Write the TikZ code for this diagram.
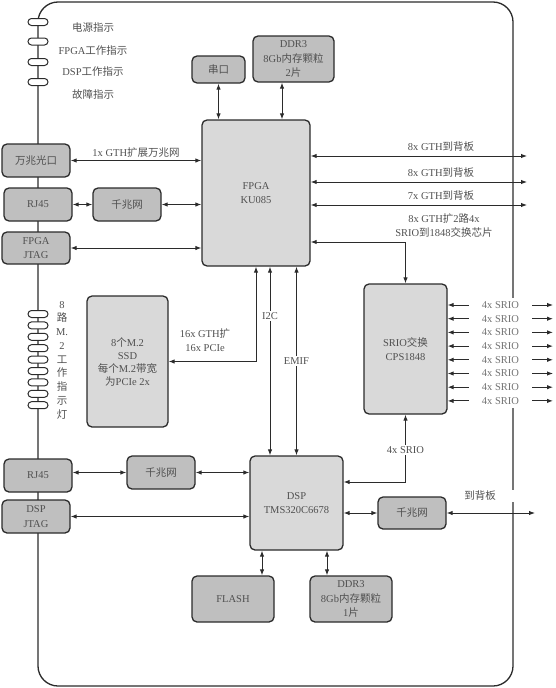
\documentclass[tikz,border=0pt]{standalone}
\usepackage{fontspec}
\setmainfont{Liberation Serif}
\newfontfamily\cjk{Noto Sans CJK SC}
\usepackage{xcolor}
\usetikzlibrary{arrows.meta,positioning,calc}
\definecolor{boxgray}{HTML}{BFBFBF}
\definecolor{chipgray}{HTML}{D9D9D9}
\definecolor{txtgray}{HTML}{505050}
\definecolor{edgegray}{HTML}{2B2B2B}

\begin{document}
\begin{tikzpicture}[x=1pt, y=-1pt,
    box/.style={rectangle, draw=edgegray, line width=1.3pt, rounded corners=5pt, fill=boxgray, text=txtgray, align=center, inner sep=0pt, font=\fontsize{10.5}{14.5}\selectfont},
    chip/.style={box, fill=chipgray},
    wh/.style 2 args={minimum width=#1pt, minimum height=#2pt},
    lbl/.style={text=txtgray, align=center, inner sep=1.5pt, font=\fontsize{10.5}{14.5}\selectfont},
    led/.style={rectangle, draw=edgegray, line width=1pt, fill=white, rounded corners=3.5pt, minimum width=20pt, minimum height=7pt, inner sep=0pt},
    arrow/.style={-{Latex[length=6pt,width=4.5pt]}, line width=1pt, edgegray},
    biarrow/.style={{Latex[length=6pt,width=4.5pt]}-{Latex[length=6pt,width=4.5pt]}, line width=1pt, edgegray}
]
\useasboundingbox (0,0) rectangle (555,688);

% Board outline
\draw[edgegray, line width=1.3pt, rounded corners=20pt] (38,2) rectangle (513,686);

% Indicator LEDs
\foreach \y [count=\i] in {22,41.5,62,82}
    \node[led] (led\i) at (38,\y) {};
\foreach \i in {0,...,8}
    \node[led] (ledm\i) at (38,{314+11.4*\i}) {};

\node[lbl] (ind1) at (93,28) {\cjk 电源指示};
\node[lbl] (ind2) at (93,51) {FPGA{\cjk 工作指示}};
\node[lbl] (ind3) at (93,72) {DSP{\cjk 工作指示}};
\node[lbl] (ind4) at (93,94) {\cjk 故障指示};
\node[lbl, font=\fontsize{10.5}{13.75}\selectfont] (m2ind) at (62,360)
    {8\\{\cjk 路}\\M.\\2\\{\cjk 工}\\{\cjk 作}\\{\cjk 指}\\{\cjk 示}\\{\cjk 灯}};

% Labels that sit on the board edge
\node[lbl, fill=white, minimum width=72pt] (bplbl) at (480,496) {\cjk 到背板};

% FPGA side
\node[box, wh={53}{27}] (uart) at (218.5,69.5) {\cjk 串口};
\node[box, wh={81}{46}] (ddrA) at (293.5,59) {DDR3\\8Gb{\cjk 内存颗粒}\\2{\cjk 片}};
\node[chip, wh={108}{146}] (fpga) at (256,193) {FPGA\\KU085};
\node[box, wh={68}{33}] (xge) at (36,160.5) {\cjk 万兆光口};
\node[box, wh={68}{33}] (rjA) at (38,204.5) {RJ45};
\node[box, wh={68}{33}] (gigA) at (127,204.5) {\cjk 千兆网};
\node[box, wh={68}{32}] (jtagA) at (36,248) {FPGA\\JTAG};
\node[chip, wh={81}{131}, font=\fontsize{10.5}{13}\selectfont] (ssd) at (127.5,361.5)
    {8{\cjk 个}M.2\\SSD\\{\cjk 每个}M.2{\cjk 带宽}\\{\cjk 为}PCIe 2x};
\node[chip, wh={83}{130}] (srio) at (405.5,349) {SRIO{\cjk 交换}\\CPS1848};

% DSP side
\node[chip, wh={93}{94}] (dsp) at (296.5,503) {DSP\\TMS320C6678};
\node[box, wh={68}{33}] (rjB) at (38,475.5) {RJ45};
\node[box, wh={68}{33}] (gigB) at (161,472.5) {\cjk 千兆网};
\node[box, wh={68}{33}] (jtagB) at (36,516.5) {DSP\\JTAG};
\node[box, wh={68}{32}] (gigC) at (412,513) {\cjk 千兆网};
\node[box, wh={82}{46}] (flash) at (233,599) {FLASH};
\node[box, wh={82}{46}] (ddrB) at (351,599) {DDR3\\8Gb{\cjk 内存颗粒}\\1{\cjk 片}};

% Free ends and ports
\coordinate (bp1) at (527,156);
\coordinate (bp2) at (527,182);
\coordinate (bp3) at (527,205);
\coordinate (bpgig) at (535,513);
\coordinate (gthturn) at (405.5,242);
\coordinate (ddrAport) at ([xshift=-11.5pt]ddrA.south);
\coordinate (i2ctop) at ([xshift=14pt]fpga.south);
\coordinate (dspsrio) at ([yshift=21pt]dsp.east);
\coordinate (dspflash) at ([xshift=-34.5pt]dsp.south);
\coordinate (dspddr) at ([xshift=30.5pt]dsp.south);

% FPGA connections
\draw[biarrow] (uart.south) -- (uart.south |- fpga.north);
\draw[biarrow] (ddrAport) -- (ddrAport |- fpga.north);
\draw[biarrow] (xge.east) -- node[lbl, above, yshift=1pt] (gthxge) {1x GTH{\cjk 扩展万兆网}} (xge.east -| fpga.west);
\draw[biarrow] (rjA.east) -- (gigA.west);
\draw[biarrow] (gigA.east) -- (gigA.east -| fpga.west);
\draw[biarrow] (jtagA.east) -- (jtagA.east -| fpga.west);

\draw[biarrow] (fpga.east |- bp1) -- (bp1);
\draw[biarrow] (fpga.east |- bp2) -- (bp2);
\draw[biarrow] (fpga.east |- bp3) -- (bp3);
\node[lbl] (gthbp1) at (441,147) {8x GTH{\cjk 到背板}};
\node[lbl] (gthbp2) at (441,173) {8x GTH{\cjk 到背板}};
\node[lbl] (gthbp3) at (441,196) {7x GTH{\cjk 到背板}};
\node[lbl, font=\fontsize{10.5}{14}\selectfont] (gthsrio) at (444,226)
    {8x GTH{\cjk 扩}2{\cjk 路}4x\\SRIO{\cjk 到}1848{\cjk 交换芯片}};
\draw[biarrow] (fpga.east |- gthturn) -| (srio.north);

\draw[biarrow] (ssd.east) -| (fpga.south);
\node[lbl] (pcie) at (205,340) {16x GTH{\cjk 扩}\\16x PCIe};
\draw[biarrow] (i2ctop) -- node[lbl, fill=white, pos=0.26] (i2c) {I2C} (i2ctop |- dsp.north);
\draw[biarrow] (dsp.north |- fpga.south) -- node[lbl, fill=white] (emif) {EMIF} (dsp.north);

% SRIO ports
\foreach \i in {0,...,7} {
    \node[lbl, text=txtgray!80, fill=white, inner xsep=13pt, inner ysep=0pt, minimum height=13.7pt] (sr\i) at (500.5,{305+13.7*\i}) {4x SRIO};
    \coordinate (srend\i) at (553,{305+13.7*\i});
    \draw[arrow] (sr\i.west) -- (sr\i.west -| srio.east);
    \draw[arrow] (sr\i.east) -- (srend\i);
}
\draw[biarrow] (srio.south) |- node[lbl, fill=white, pos=0.26] (dspsriolbl) {4x SRIO} (dspsrio);

% DSP connections
\draw[biarrow] (gigB.west -| rjB.east) -- (gigB.west);
\draw[biarrow] (gigB.east) -- (gigB.east -| dsp.west);
\draw[biarrow] (jtagB.east) -- (jtagB.east -| dsp.west);
\draw[biarrow] (gigC.west -| dsp.east) -- (gigC.west);
\draw[biarrow] (gigC.east) -- (bpgig);
\draw[biarrow] (dspflash) -- (dspflash |- flash.north);
\draw[biarrow] (dspddr) -- (dspddr |- ddrB.north);

\end{tikzpicture}
\end{document}
